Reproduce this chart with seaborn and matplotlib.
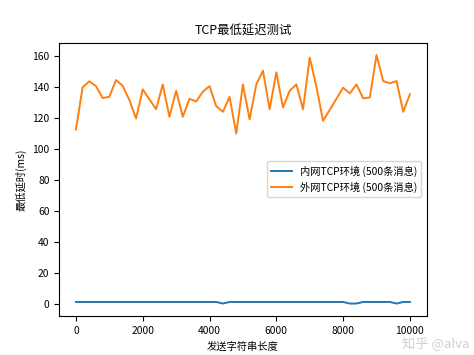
import matplotlib
matplotlib.use("Agg")
import matplotlib.pyplot as plt
import seaborn as sns
import numpy as np
import pandas as pd

plt.rcParams['font.family'] = ['Noto Sans CJK SC', 'DejaVu Sans']
plt.rcParams['axes.unicode_minus'] = False
plt.rcParams['font.size'] = 7.4

lengths = list(range(0, 10001, 200))
inner_ms = [1] * 51
for i in (22, 41, 42, 48):
    inner_ms[i] = 0
outer_ms = [112.5, 139.7, 143.6, 140.5, 132.8, 133.6, 144.4, 140.7, 131.5, 119.6,
            138.4, 131.9, 125.6, 141.6, 120.7, 137.5, 120.7, 132.3, 130.6, 136.9,
            140.5, 127.6, 123.9, 133.6, 109.9, 141.6, 119.0, 141.6, 150.5, 125.6,
            149.4, 126.7, 137.5, 141.6, 125.6, 158.9, 140.1, 118.1, 125.2, 132.3,
            139.5, 135.8, 141.6, 132.6, 133.2, 160.6, 143.8, 142.3, 143.8, 123.9,
            135.2]
labels = ['内网TCP环境 (500条消息)', '外网TCP环境 (500条消息)']
title = 'TCP最低延迟测试'
xlabel = '发送字符串长度'
ylabel = '最低延时(ms)'

df = pd.DataFrame({
    'x': lengths * 2,
    'y': inner_ms + outer_ms,
    's': [labels[0]] * len(lengths) + [labels[1]] * len(lengths),
})

fig, ax = plt.subplots(figsize=(4.74, 3.55), dpi=100)
sns.lineplot(data=df, x='x', y='y', hue='s', palette=['#1f77b4', '#ff7f0e'],
             ax=ax, linewidth=1.4)
ax.set_title(title)
ax.set_xlabel(xlabel)
ax.set_ylabel(ylabel)
ax.set_yticks(range(0, 161, 20))
ax.set_xticks(range(0, 10001, 2000))
ax.legend(title=None, loc='center right', fontsize=7.4)
fig.text(0.99, 0.012, '知乎 @alva', color='#d0d0d0', fontsize=9.5, ha='right', va='bottom')
fig.savefig('out.png', dpi=100)
